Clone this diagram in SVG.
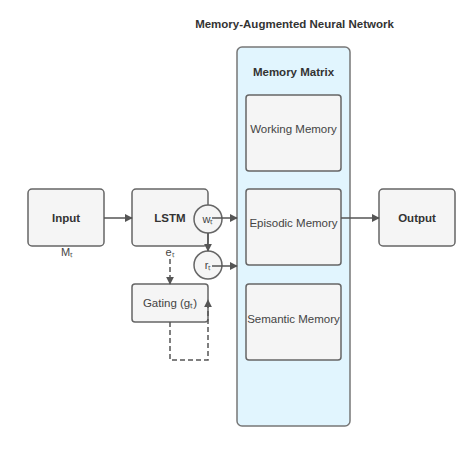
<svg xmlns="http://www.w3.org/2000/svg" width="474" height="474" viewBox="0 0 474 474">
<defs>
<style>
.node{fill:#f5f5f5;stroke:#666;stroke-width:1.5}
.cont{fill:#e1f5fe;stroke:#777;stroke-width:1.5}
.t{font-family:"Liberation Sans",Arial,sans-serif;fill:#333;text-anchor:middle}
.b{font-weight:bold;font-size:11.5px}
.n{font-size:11.5px;fill:#444}
.s{font-size:11px;fill:#444}
.e{stroke:#555;stroke-width:1.5;fill:none}
.d{stroke-dasharray:5,3}
</style>
<marker id="ah" viewBox="0 0 10 10" refX="9" refY="5" markerWidth="8" markerHeight="8" orient="auto" markerUnits="userSpaceOnUse">
<path d="M0,0 L10,5 L0,10 z" fill="#555"/>
</marker>
</defs>
<rect width="474" height="474" fill="#fff"/>
<text class="t b" x="294.5" y="28">Memory-Augmented Neural Network</text>
<g id="memory-matrix">
<rect class="cont" x="237" y="47" width="113" height="379" rx="5"/>
<text class="t b" x="293.5" y="76">Memory Matrix</text>
</g>
<g id="working-memory">
<rect class="node" x="246" y="95" width="95" height="76" rx="3"/>
<text class="t n" x="293.5" y="133">Working Memory</text>
</g>
<g id="episodic-memory">
<rect class="node" x="246" y="189" width="95" height="76" rx="3"/>
<text class="t n" x="293.5" y="227">Episodic Memory</text>
</g>
<g id="semantic-memory">
<rect class="node" x="246" y="284" width="95" height="76" rx="3"/>
<text class="t n" x="293.5" y="323">Semantic Memory</text>
</g>
<g id="input">
<rect class="node" x="28" y="189" width="76" height="57" rx="4"/>
<text class="t b" x="66" y="222">Input</text>
</g>
<g id="lstm">
<rect class="node" x="132" y="189" width="76" height="57" rx="4"/>
<text class="t b" x="170" y="222">LSTM</text>
</g>
<g id="output">
<rect class="node" x="379" y="189" width="76" height="57" rx="4"/>
<text class="t b" x="417" y="222">Output</text>
</g>
<g id="gating">
<rect class="node" x="132" y="284" width="76" height="38" rx="3"/>
<text class="t n" x="170" y="307">Gating (gₜ)</text>
</g>
<g id="write-head">
<circle class="node" cx="208" cy="219" r="14"/>
<text class="t s" x="208" y="223">wₜ</text>
</g>
<g id="read-head">
<circle class="node" cx="208" cy="265" r="14"/>
<text class="t s" x="208" y="269">rₜ</text>
</g>
<g id="labels">
<text class="t s" x="67" y="256">Mₜ</text>
<text class="t s" x="170" y="256">eₜ</text>
</g>
<g id="connectors">
<line class="e" x1="104" y1="218" x2="132" y2="218" marker-end="url(#ah)"/>
<line class="e" x1="212" y1="218" x2="237" y2="218" marker-end="url(#ah)"/>
<line class="e" x1="208" y1="233" x2="208" y2="251" marker-end="url(#ah)"/>
<line class="e" x1="212" y1="266" x2="237" y2="266" marker-end="url(#ah)"/>
<line class="e" x1="341" y1="218" x2="379" y2="218" marker-end="url(#ah)"/>
<line class="e d" x1="170" y1="259" x2="170" y2="284" marker-end="url(#ah)"/>
<path class="e d" d="M170,322 V360 H208 V300" marker-end="url(#ah)"/>
</g>
</svg>
